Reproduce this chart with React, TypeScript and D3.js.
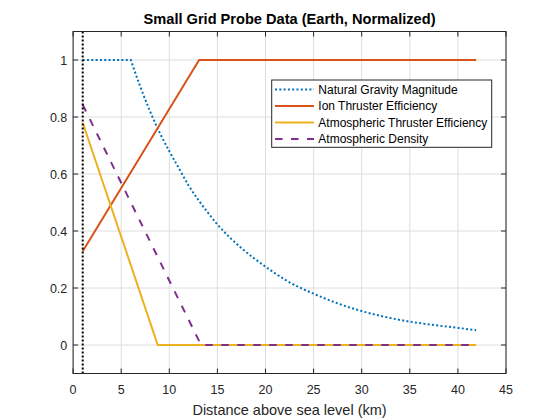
import React from "react";
import * as d3 from "d3";

const W = 560;
const H = 420;

const xTicks = [0, 5, 10, 15, 20, 25, 30, 35, 40, 45];
const yTicks = [0, 0.2, 0.4, 0.6, 0.8, 1];

const gravityX = [1, 6, 7, 8, 9, 10, 11, 12, 13, 14, 15, 17.5, 20, 22.5, 25, 27.5, 30, 32.5, 35, 37.5, 40, 41.9];
const gravityY = [1, 1, 0.905, 0.82, 0.745, 0.68, 0.62, 0.56, 0.51, 0.465, 0.423, 0.34, 0.275, 0.22, 0.18, 0.146, 0.119, 0.098, 0.082, 0.07, 0.06, 0.052];

const ionX = [1, 13.1, 41.9];
const ionY = [0.329, 1, 1];

const atmThrX = [1, 8.8, 41.9];
const atmThrY = [0.78, 0, 0];

const densX = [1, 13.3, 41.9];
const densY = [0.843, 0, 0];

const markerX = 1;

const seriesNames = [
  "Natural Gravity Magnitude",
  "Ion Thruster Efficiency",
  "Atmospheric Thruster Efficiency",
  "Atmospheric Density",
];

const C_BLUE = "#0072BD";
const C_ORANGE = "#D95319";
const C_YELLOW = "#EDB120";
const C_PURPLE = "#7E2F8E";
const AX = "#262626";
const GRID = "#dedede";
const FONT = "'Liberation Sans', Arial, Helvetica, sans-serif";

const left = 73.1;
const right = 506;
const top = 31.5;
const bottom = 373.5;

export default function App() {
  const x = d3.scaleLinear().domain([0, 45]).range([left, right]);
  const y = d3.scaleLinear().domain([-0.1, 1.1]).range([bottom, top]);

  const lin = d3
    .line<[number, number]>()
    .x((d) => x(d[0]))
    .y((d) => y(d[1]));
  const mono = d3
    .line<[number, number]>()
    .x((d) => x(d[0]))
    .y((d) => y(d[1]))
    .curve(d3.curveMonotoneX);

  const gPts: [number, number][] = gravityX.map((v, i) => [v, gravityY[i]]);
  const curvePart = mono(gPts.slice(1)) || "";
  const gravityPath = `M${x(gPts[0][0])},${y(gPts[0][1])}L` + curvePart.slice(1);

  const zip = (a: number[], b: number[]) => a.map((v, i) => [v, b[i]] as [number, number]);

  const styles = [
    { color: C_BLUE, dash: "2 2.3" },
    { color: C_ORANGE, dash: "" },
    { color: C_YELLOW, dash: "" },
    { color: C_PURPLE, dash: "7.5 8.5" },
  ];

  const legX = 271.7;
  const legY = 80;
  const legW = 220;
  const legH = 67.3;
  const rowH = 16.5;

  return (
    <svg
      width={W}
      height={H}
      style={{ position: "absolute", left: 0, top: 0, background: "#fff" }}
      fontFamily={FONT}
    >
      <rect x={0} y={0} width={W} height={H} fill="#fff" />
      <defs>
        <clipPath id="plotclip">
          <rect x={left} y={top} width={right - left} height={bottom - top} />
        </clipPath>
      </defs>
      {/* grid */}
      {xTicks.map((t) => (
        <line key={"gx" + t} x1={x(t)} x2={x(t)} y1={top} y2={bottom} stroke={GRID} strokeWidth={1} />
      ))}
      {yTicks.map((t) => (
        <line key={"gy" + t} x1={left} x2={right} y1={y(t)} y2={y(t)} stroke={GRID} strokeWidth={1} />
      ))}

      {/* series */}
      <g clipPath="url(#plotclip)" fill="none">
        <path d={gravityPath} stroke={C_BLUE} strokeWidth={2} strokeDasharray="2 2.3" />
        <path d={lin(zip(ionX, ionY)) || ""} stroke={C_ORANGE} strokeWidth={2} />
        <path d={lin(zip(atmThrX, atmThrY)) || ""} stroke={C_YELLOW} strokeWidth={2} />
        <path d={lin(zip(densX, densY)) || ""} stroke={C_PURPLE} strokeWidth={2} strokeDasharray="7.5 8.5" />
        <line x1={x(markerX)} x2={x(markerX)} y1={top} y2={bottom} stroke="#000" strokeWidth={2} strokeDasharray="2 2" />
      </g>

      {/* axes box */}
      <rect x={left} y={top} width={right - left} height={bottom - top} fill="none" stroke={AX} strokeWidth={1} />
      {xTicks.map((t) => (
        <g key={"tx" + t}>
          <line x1={x(t)} x2={x(t)} y1={bottom} y2={bottom - 5} stroke={AX} />
          <line x1={x(t)} x2={x(t)} y1={top} y2={top + 5} stroke={AX} />
          <text x={x(t)} y={394} textAnchor="middle" fontSize={12.5} fill={AX}>
            {t}
          </text>
        </g>
      ))}
      {yTicks.map((t) => (
        <g key={"ty" + t}>
          <line x1={left} x2={left + 5} y1={y(t)} y2={y(t)} stroke={AX} />
          <line x1={right} x2={right - 5} y1={y(t)} y2={y(t)} stroke={AX} />
          <text x={67.3} y={y(t) + 4.5} textAnchor="end" fontSize={12.5} fill={AX}>
            {String(t)}
          </text>
        </g>
      ))}

      {/* labels */}
      <text x={(left + right) / 2} y={24} textAnchor="middle" fontSize={14.6} fontWeight="bold" fill="#000">
        Small Grid Probe Data (Earth, Normalized)
      </text>
      <text x={(left + right) / 2} y={415} textAnchor="middle" fontSize={14.5} fill={AX}>
        Distance above sea level (km)
      </text>

      {/* legend */}
      <rect x={legX} y={legY} width={legW} height={legH} fill="#fff" stroke={AX} strokeWidth={1} />
      {seriesNames.map((name, i) => {
        const cy = legY + 9.5 + i * rowH;
        return (
          <g key={name}>
            <line
              x1={275}
              x2={314}
              y1={cy}
              y2={cy}
              stroke={styles[i].color}
              strokeWidth={2}
              strokeDasharray={styles[i].dash || undefined}
            />
            <text x={318.3} y={cy + 4.2} fontSize={12} fill="#000">
              {name}
            </text>
          </g>
        );
      })}
    </svg>
  );
}
